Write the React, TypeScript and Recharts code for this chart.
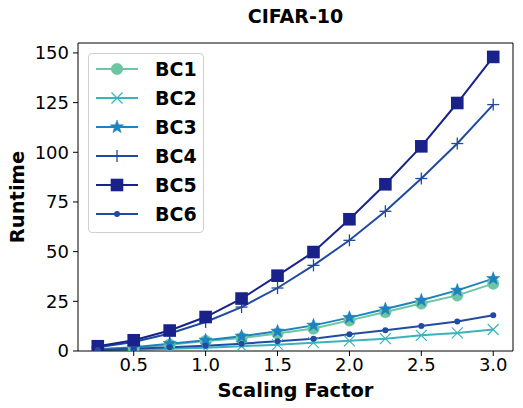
import React from 'react';
import { LineChart, Line, XAxis, YAxis, ReferenceLine } from 'recharts';

const scales = [0.25, 0.5, 0.75, 1.0, 1.25, 1.5, 1.75, 2.0, 2.25, 2.5, 2.75, 3.0];
const bc1 = [0.8, 1.6, 3.2, 5.0, 6.5, 8.8, 11.3, 15.4, 19.6, 23.9, 28.0, 33.9];
const bc2 = [0.3, 0.6, 1.1, 1.6, 2.4, 3.2, 4.2, 5.1, 6.2, 7.9, 9.1, 10.8];
const bc3 = [0.9, 1.9, 3.7, 5.4, 7.4, 9.9, 12.9, 16.8, 21.1, 25.5, 30.5, 36.4];
const bc4 = [1.9, 4.5, 8.8, 14.6, 22.1, 31.7, 43.1, 55.7, 70.3, 86.8, 104.4, 124.0];
const bc5 = [2.4, 5.4, 10.3, 17.1, 26.4, 37.9, 49.8, 66.3, 83.9, 103.0, 124.8, 148.0];
const bc6 = [0.5, 1.1, 1.9, 2.7, 3.7, 4.9, 6.2, 8.4, 10.4, 12.6, 14.9, 18.0];

const xTicks = [0.5, 1.0, 1.5, 2.0, 2.5, 3.0];
const yTicks = [0, 25, 50, 75, 100, 125, 150];
const title = 'CIFAR-10';
const xLabel = 'Scaling Factor';
const yLabel = 'Runtime';

const X_MIN = 0.1125;
const X_MAX = 3.1375;
const Y_MAX = 155;

const data = scales.map((s, i) => ({
  s,
  BC1: bc1[i],
  BC2: bc2[i],
  BC3: bc3[i],
  BC4: bc4[i],
  BC5: bc5[i],
  BC6: bc6[i],
}));

type Mk = 'circle' | 'x' | 'star' | 'plus' | 'square' | 'dot';

const series: { key: string; color: string; marker: Mk }[] = [
  { key: 'BC1', color: '#6cc5a3', marker: 'circle' },
  { key: 'BC2', color: '#3db1bc', marker: 'x' },
  { key: 'BC3', color: '#1e82be', marker: 'star' },
  { key: 'BC4', color: '#2049a0', marker: 'plus' },
  { key: 'BC5', color: '#19228a', marker: 'square' },
  { key: 'BC6', color: '#234aa0', marker: 'dot' },
];

const FONT = '"DejaVu Sans", sans-serif';

function starPoints(cx: number, cy: number, ro: number, ri: number) {
  const pts: string[] = [];
  for (let i = 0; i < 10; i++) {
    const r = i % 2 === 0 ? ro : ri;
    const a = -Math.PI / 2 + (i * Math.PI) / 5;
    pts.push(`${cx + r * Math.cos(a)},${cy + r * Math.sin(a)}`);
  }
  return pts.join(' ');
}

function marker(type: Mk, cx: number, cy: number, color: string, key?: string | number) {
  switch (type) {
    case 'circle':
      return <circle key={key} cx={cx} cy={cy} r={5.8} fill={color} stroke={color} strokeWidth={0.5} />;
    case 'x':
      return (
        <g key={key} stroke={color} strokeWidth={1.2}>
          <line x1={cx - 5.5} y1={cy - 5.5} x2={cx + 5.5} y2={cy + 5.5} />
          <line x1={cx - 5.5} y1={cy + 5.5} x2={cx + 5.5} y2={cy - 5.5} />
        </g>
      );
    case 'star':
      return <polygon key={key} points={starPoints(cx, cy, 7, 2.9)} fill={color} stroke={color} strokeWidth={0.5} />;
    case 'plus':
      return (
        <g key={key} stroke={color} strokeWidth={1.3}>
          <line x1={cx - 6} y1={cy} x2={cx + 6} y2={cy} />
          <line x1={cx} y1={cy - 6} x2={cx} y2={cy + 6} />
        </g>
      );
    case 'square':
      return <rect key={key} x={cx - 6.3} y={cy - 6.3} width={12.6} height={12.6} fill={color} />;
    case 'dot':
    default:
      return <circle key={key} cx={cx} cy={cy} r={3} fill={color} />;
  }
}

const LegendBox = () => (
  <div
    style={{
      position: 'absolute',
      left: 88,
      top: 53,
      width: 116,
      height: 180,
      border: '1px solid #d0d0d0',
      borderRadius: 4,
      background: 'rgba(255,255,255,0.8)',
      boxSizing: 'border-box',
    }}
  >
    <svg width={114} height={178} style={{ position: 'absolute', left: 0, top: 0 }}>
      {series.map((s, i) => {
        const y = 15 + i * 29;
        return (
          <g key={s.key}>
            <line x1={7} y1={y} x2={49} y2={y} stroke={s.color} strokeWidth={2} />
            {marker(s.marker, 28, y, s.color)}
            <text
              x={66}
              y={y}
              dy="0.36em"
              fontFamily={FONT}
              fontWeight="bold"
              fontSize={19}
              fill="#000"
            >
              {s.key}
            </text>
          </g>
        );
      })}
    </svg>
  </div>
);

export default function App() {
  return (
    <div style={{ position: 'absolute', left: 0, top: 0, width: 523, height: 408, background: '#fff' }}>
      <div
        style={{
          position: 'absolute',
          left: 78,
          width: 435,
          top: 5,
          textAlign: 'center',
          fontFamily: FONT,
          fontWeight: 'bold',
          fontSize: 19,
          color: '#000',
        }}
      >
        {title}
      </div>
      <LineChart
        width={523}
        height={408}
        data={data}
        margin={{ top: 43, right: 10, left: 0, bottom: 0 }}
        style={{ position: 'absolute', left: 0, top: 0 }}
      >
        <XAxis
          dataKey="s"
          type="number"
          domain={[X_MIN, X_MAX]}
          ticks={xTicks}
          tickFormatter={(v: number) => v.toFixed(1)}
          allowDataOverflow
          height={57}
          tickSize={5}
          tickMargin={2}
          stroke="#000"
          tick={{ fill: '#000', fontSize: 18, fontFamily: FONT }}
          tickLine={{ stroke: '#000' }}
          axisLine={{ stroke: '#000', strokeWidth: 1 }}
          label={{
            value: xLabel,
            position: 'insideBottom',
            offset: 11,
            fill: '#000',
            fontSize: 19.5,
            fontWeight: 'bold',
            fontFamily: FONT,
          }}
        />
        <YAxis
          type="number"
          domain={[0, Y_MAX]}
          ticks={yTicks}
          allowDataOverflow
          width={78}
          tickSize={5}
          tickMargin={4}
          tick={{ fill: '#000', fontSize: 18, fontFamily: FONT }}
          tickLine={{ stroke: '#000' }}
          axisLine={{ stroke: '#000', strokeWidth: 1 }}
          label={{
            value: yLabel,
            angle: -90,
            position: 'insideLeft',
            offset: 17,
            style: { textAnchor: 'middle' },
            fill: '#000',
            fontSize: 19.5,
            fontWeight: 'bold',
            fontFamily: FONT,
          }}
        />
        <ReferenceLine y={Y_MAX} stroke="#000" strokeWidth={1} ifOverflow="visible" />
        <ReferenceLine x={X_MAX} stroke="#000" strokeWidth={1} ifOverflow="visible" />
        {series.map((s) => (
          <Line
            key={s.key}
            dataKey={s.key}
            stroke={s.color}
            strokeWidth={2}
            type="linear"
            isAnimationActive={false}
            dot={(p: any) => marker(s.marker, p.cx, p.cy, s.color, `${s.key}-${p.index}`)}
            activeDot={false}
          />
        ))}
      </LineChart>
      <LegendBox />
    </div>
  );
}
